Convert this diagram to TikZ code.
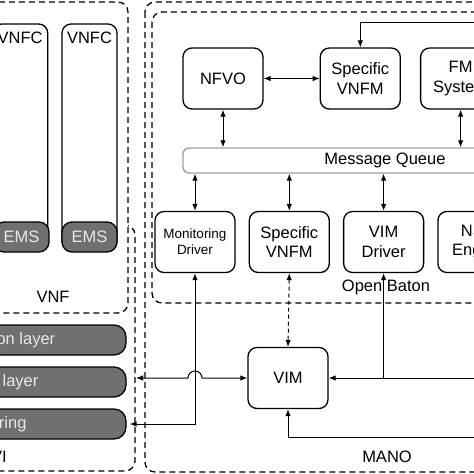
\documentclass[tikz,border=0pt]{standalone}
\usepackage{fontspec}
\setmainfont{Liberation Sans}
\usetikzlibrary{positioning,arrows.meta}
\definecolor{layergray}{RGB}{112,112,112}
\definecolor{layertext}{RGB}{232,232,232}
\tikzset{
 block/.style={draw, line width=1.3pt, rounded corners=9pt, fill=white, minimum width=80pt, minimum height=61pt, align=center, inner sep=1pt, font=\fontsize{16.5}{19.5}\selectfont},
 layerbox/.style={draw, line width=1.3pt, rounded corners=12pt, fill=layergray, text=layertext, minimum height=30pt, font=\fontsize{16.5}{19.5}\selectfont},
 queue/.style={draw=gray!75, line width=1.4pt, rounded corners=6pt, fill=white, minimum width=404pt, minimum height=25pt, font=\fontsize{16.5}{19.5}\selectfont},
 dashbox/.style={draw, dash pattern=on 6pt off 4pt, line width=1.3pt, rounded corners=10pt},
 tag/.style={font=\fontsize{16.5}{19.5}\selectfont},
 link/.style={line width=1pt, <->},
 feed/.style={line width=1pt, ->}
}
\begin{document}
\begin{tikzpicture}[x=1pt, y=-1pt, >={Latex[length=7pt,width=5.5pt]}]
 \useasboundingbox (0,0) rectangle (474,474);
 \clip (0,0) rectangle (474,474);
 \draw[dashbox] (-30,225) rectangle (135,471);
 \draw[dashbox, fill=white] (-30,2) rectangle (128,313);
 \draw[dashbox] (145,2) rectangle (520,472);
 \draw[dashbox] (152,12) rectangle (520,303);
 \node[tag] (vnflabel) at (53,297) {VNF};
 \node[tag] (nfvilabel) at (-12,457) {NFVI};
 \node[tag] (oblabel) at (386,287) {Open Baton};
 \node[tag] (manolabel) at (387,457) {MANO};

 \node[block, minimum width=55pt, minimum height=226pt, label={[tag, anchor=north, yshift=-5.5pt]north:VNFC}] (vnfc2) at (89.5,137) {};
 \node[block, minimum width=55pt, minimum height=226pt, label={[tag, anchor=north, yshift=-5.5pt]north:VNFC}, left=13pt of vnfc2] (vnfc1) {};
 \node[layerbox, rounded corners=10pt, minimum width=55pt] (ems2) at (89.5,237) {EMS};
 \node[layerbox, rounded corners=10pt, minimum width=55pt] (ems1) at (21.5,237) {EMS};

 \node[layerbox, minimum width=276pt] (virtlayer) at (-12,340) {Virtualization layer};
 \node[layerbox, minimum width=276pt] (netlayer) at (-12,382) {Network layer};
 \node[layerbox, minimum width=276pt] (monlayer) at (-12,424) {Monitoring};

 \node[block] (nfvo) at (223,78.5) {NFVO};
 \node[block, right=56pt of nfvo] (vnfmtop) {Specific\\VNFM};
 \node[block, right=19pt of vnfmtop] (fm) {FM\\System};
 \node[queue] (mq) at (385,160.5) {Message Queue};
 \node[block, font=\fontsize{13.5}{16}\selectfont] (mondrv) at (195,242) {Monitoring\\Driver};
 \node[block, right=13pt of mondrv] (vnfm) {Specific\\VNFM};
 \node[block, right=13pt of vnfm] (vimdrv) {VIM\\Driver};
 \node[block, right=13pt of vimdrv] (nse) {NSE\\Engine};
 \node[block] (vim) at (288,378) {VIM};

 \coordinate (fmin) at (490,22);
 \coordinate (nfviedge) at (136,378);
 \coordinate (vimin) at (490,378);
 \coordinate (vimlow) at (490,437);

 \draw[link] (nfvo) -- (vnfmtop);
 \draw[link] (nfvo.south) -- (nfvo.south |- mq.north);
 \draw[link] (fm.south) -- (fm.south |- mq.north);
 \foreach \n in {mondrv,vnfm,vimdrv,nse}
  \draw[link] (\n.north) -- (\n.north |- mq.south);
 \draw[feed] (fmin) -| (vnfmtop.north);
 \draw[link, shorten <=3pt] (monlayer.east) -| (mondrv.south);
 \draw[link] (nfviedge) -- (188,378) arc[start angle=180, end angle=0, radius=7pt] -- (vim.west);
 \draw[link, dash pattern=on 4pt off 3pt] (vnfm.south) -- (vim.north);
 \draw[feed] (vimin) -- (vim.east);
 \draw[feed] (vimdrv.south |- vim.east) -- (vimdrv.south);
 \draw[feed] (vimlow) -| (vim.south);
 \draw[feed] (nse.south |- vim.east) -- (nse.south);
\end{tikzpicture}
\end{document}
